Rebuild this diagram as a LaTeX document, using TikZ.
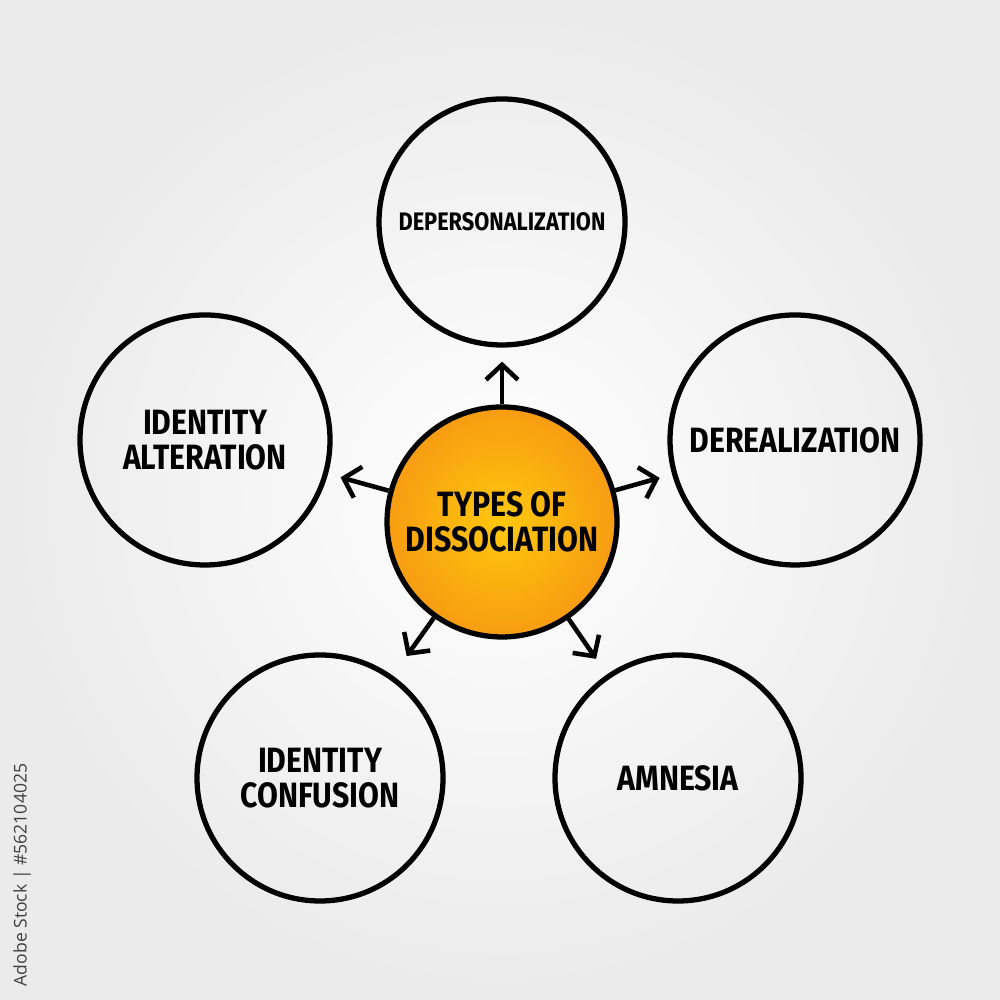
\documentclass[tikz,border=0pt]{standalone}
\usepackage{fontspec}
\newfontfamily\handfont[FakeStretch=0.86]{Fira Sans}
\newfontfamily\stockfont{Open Sans}
\usetikzlibrary{arrows.meta,positioning}
\begin{document}
\begin{tikzpicture}[
  bubble/.style={circle,draw,line width=1.5pt,minimum size=2.46cm,inner sep=0pt,align=center,
    font=\handfont\bfseries\fontsize{10}{9.8}\selectfont},
  core/.style={bubble,minimum size=2.3cm,inner color={rgb,255:red,255;green,200;blue,12},
    outer color={rgb,255:red,247;green,156;blue,18}},
  spoke/.style={line width=1.3pt,-{Straight Barb[length=1.5mm,width=3.2mm]}}
]
\useasboundingbox (0,0) rectangle (10,10);
\shade[inner color=white,outer color=black!8] (0,0) rectangle (10,10);
\node[core] (types) at (5.02,4.78) {TYPES OF\\DISSOCIATION};
\node[bubble,font=\handfont\bfseries\fontsize{7.2}{8}\selectfont] (deper) at (5.02,7.78) {DEPERSONALIZATION};
\node[bubble,minimum size=2.5cm] (dereal) at (7.95,5.60) {DEREALIZATION};
\node[bubble,minimum size=2.5cm] (alter) at (2.05,5.60) {IDENTITY\\ALTERATION};
\node[bubble] (confus) at (3.20,2.22) {IDENTITY\\CONFUSION};
\node[bubble] (amnes) at (6.78,2.22) {AMNESIA};
\foreach \t/\s in {deper/0.14,dereal/0.13,alter/0.13,confus/0.24,amnes/0.19}
  \draw[spoke,shorten >=\s cm] (types) -- (\t);
\node[rotate=90,text=black!75,font=\stockfont\fontsize{5}{6}\selectfont] (stock) at (0.22,1.25) {Adobe Stock | \#562104025};
\end{tikzpicture}
\end{document}
